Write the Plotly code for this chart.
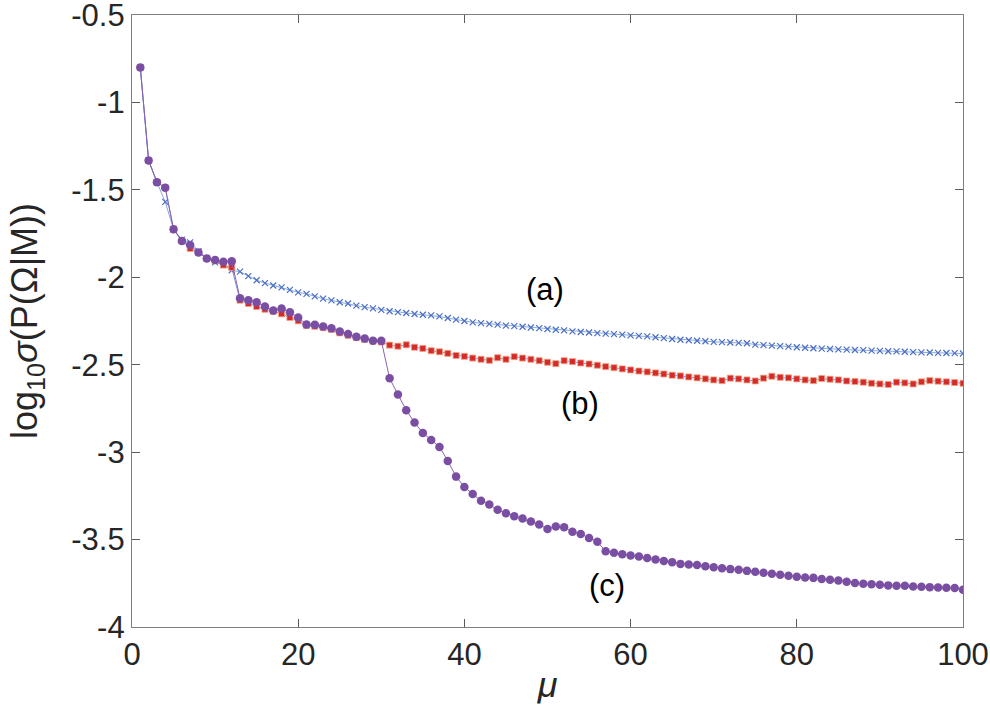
import plotly.graph_objects as go

mu = list(range(1, 101))

series_a = [-0.80, -1.332, -1.456, -1.569, -1.725, -1.785, -1.80, -1.85, -1.89, -1.915,
            -1.93, -1.96, -1.968, -1.993, -2.017, -2.033, -2.047, -2.058, -2.072, -2.086,
            -2.095, -2.109, -2.122, -2.132, -2.143, -2.15, -2.162, -2.171, -2.178, -2.186,
            -2.194, -2.199, -2.204, -2.21, -2.214, -2.218, -2.224, -2.233, -2.242, -2.25,
            -2.258, -2.262, -2.266, -2.271, -2.276, -2.279, -2.283, -2.287, -2.291, -2.296,
            -2.30, -2.304, -2.309, -2.313, -2.316, -2.319, -2.322, -2.325, -2.328, -2.332,
            -2.335, -2.338, -2.343, -2.348, -2.353, -2.357, -2.36, -2.363, -2.366, -2.369,
            -2.371, -2.373, -2.375, -2.377, -2.385, -2.388, -2.391, -2.394, -2.397, -2.40,
            -2.403, -2.406, -2.408, -2.41, -2.412, -2.414, -2.416, -2.417, -2.419, -2.421,
            -2.423, -2.424, -2.426, -2.428, -2.429, -2.43, -2.432, -2.433, -2.434, -2.436]

series_b = [-0.80, -1.332, -1.456, -1.488, -1.725, -1.792, -1.835, -1.858, -1.892, -1.905,
            -1.93, -1.944, -2.131, -2.150, -2.167, -2.183, -2.195, -2.209, -2.23, -2.249,
            -2.275, -2.28, -2.288, -2.298, -2.318, -2.332, -2.345, -2.355, -2.365, -2.37,
            -2.388, -2.394, -2.386, -2.40, -2.407, -2.42, -2.426, -2.435, -2.447, -2.452,
            -2.462, -2.469, -2.475, -2.46, -2.469, -2.454, -2.462, -2.469, -2.477, -2.486,
            -2.494, -2.477, -2.482, -2.490, -2.496, -2.503, -2.511, -2.517, -2.524, -2.530,
            -2.536, -2.541, -2.547, -2.553, -2.560, -2.564, -2.570, -2.575, -2.581, -2.587,
            -2.591, -2.577, -2.581, -2.587, -2.593, -2.577, -2.566, -2.572, -2.575, -2.581,
            -2.587, -2.591, -2.579, -2.583, -2.587, -2.593, -2.596, -2.600, -2.606, -2.610,
            -2.613, -2.600, -2.604, -2.610, -2.598, -2.591, -2.594, -2.598, -2.602, -2.606]

series_c = [-0.80, -1.332, -1.456, -1.488, -1.725, -1.792, -1.816, -1.858, -1.892, -1.901,
            -1.911, -1.909, -2.120, -2.131, -2.143, -2.167, -2.190, -2.179, -2.20, -2.23,
            -2.27, -2.272, -2.281, -2.291, -2.31, -2.325, -2.34, -2.35, -2.363, -2.363,
            -2.578, -2.67, -2.76, -2.83, -2.89, -2.93, -2.97, -3.05, -3.14, -3.20,
            -3.24, -3.278, -3.30, -3.33, -3.35, -3.367, -3.38, -3.397, -3.414, -3.44,
            -3.425, -3.43, -3.455, -3.468, -3.491, -3.512, -3.567, -3.576, -3.584, -3.591,
            -3.597, -3.605, -3.614, -3.622, -3.629, -3.639, -3.643, -3.645, -3.652, -3.658,
            -3.664, -3.669, -3.673, -3.679, -3.684, -3.690, -3.696, -3.701, -3.707, -3.713,
            -3.717, -3.719, -3.726, -3.730, -3.734, -3.741, -3.749, -3.753, -3.755, -3.758,
            -3.762, -3.764, -3.764, -3.768, -3.770, -3.772, -3.774, -3.775, -3.777, -3.787]

labels = ["(a)", "(b)", "(c)"]
label_x = [49.7, 53.9, 57.2]
label_y = [-2.07, -2.72, -3.76]

x_ticks = [0, 20, 40, 60, 80, 100]
y_ticks = [-4, -3.5, -3, -2.5, -2, -1.5, -1, -0.5]

FONT = "Liberation Sans, Arial, sans-serif"

fig = go.Figure()
fig.add_trace(go.Scatter(
    x=mu, y=series_a, mode="lines+markers",
    line=dict(color="rgba(90,130,210,0.7)", width=1),
    marker=dict(symbol="x-thin", size=6, line=dict(color="#4a6fc4", width=1.2)),
    showlegend=False))
fig.add_trace(go.Scatter(
    x=mu, y=series_b, mode="lines+markers",
    line=dict(color="rgba(90,120,200,0.8)", width=1),
    marker=dict(symbol="square", size=6, color="#d42a2a",
                line=dict(color="#f0a080", width=0.8)),
    showlegend=False))
fig.add_trace(go.Scatter(
    x=mu, y=series_c, mode="lines+markers",
    line=dict(color="#8a62b4", width=1),
    marker=dict(symbol="circle", size=8.5, color="#7a4fa3",
                line=dict(color="#7a4fa3", width=0)),
    showlegend=False))

for t, lx, ly in zip(labels, label_x, label_y):
    fig.add_annotation(x=lx, y=ly, text=t, showarrow=False,
                       font=dict(size=31, color="#000000", family=FONT))

axis_common = dict(
    showgrid=False, zeroline=False, showline=True, linecolor="#7f7f7f",
    linewidth=1.2, mirror="ticks", ticks="inside", ticklen=8,
    tickcolor="#5a5a5a", tickwidth=1, ticklabeloverflow="allow",
    automargin=False,
    tickfont=dict(size=31, color="#262626", family=FONT),
)

fig.update_xaxes(range=[0, 100], tickvals=x_ticks,
                 ticktext=[str(v) for v in x_ticks],
                 title=dict(text="<i>μ</i>", standoff=0,
                            font=dict(size=36, color="#262626", family=FONT)),
                 **axis_common)
fig.update_yaxes(range=[-4, -0.5], tickvals=y_ticks,
                 ticktext=[("%g" % v) for v in y_ticks],
                 title=dict(text="log<sub>10</sub><i>σ</i>(P(Ω|M))", standoff=22,
                            font=dict(size=36, color="#262626", family=FONT)),
                 **axis_common)

fig.update_layout(
    width=990, height=707,
    margin=dict(l=132, r=27, t=15, b=80),
    paper_bgcolor="white", plot_bgcolor="white",
)

fig.write_html("out.html")
